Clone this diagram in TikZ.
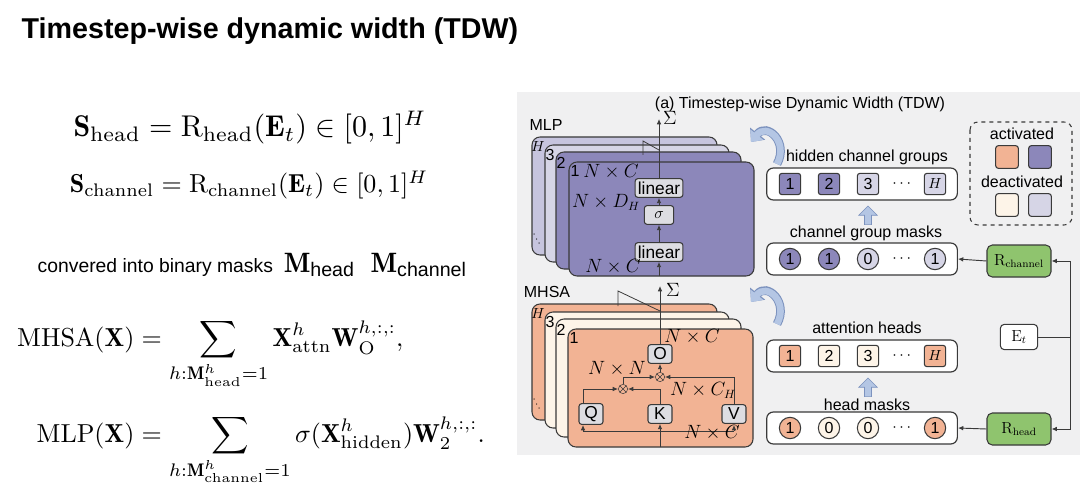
\documentclass[tikz,border=0pt]{standalone}
\usepackage{amsmath}
\usepackage{fontspec}
\newfontfamily\hel{Liberation Sans}
\usetikzlibrary{arrows.meta,shapes.arrows}
\definecolor{pD}{HTML}{8C87BA}
\definecolor{pL}{HTML}{D6D5E6}
\definecolor{pM}{HTML}{C6C4DE}
\definecolor{oD}{HTML}{F2B394}
\definecolor{oL}{HTML}{FDF4E8}
\definecolor{gbox}{HTML}{DDDDE2}
\definecolor{grn}{HTML}{8FC46E}
\definecolor{bl}{HTML}{B4C6E4}
\definecolor{bld}{HTML}{7C92BE}
\definecolor{panel}{HTML}{F0F0F1}
\definecolor{ln}{HTML}{3A3A3A}
\tikzset{
 card/.style={draw=ln,line width=0.8pt,rounded corners=6pt},
 op/.style={draw=ln,fill=gbox,rounded corners=2pt,line width=0.8pt,font=\hel\fontsize{13}{14}\selectfont,inner sep=2pt,minimum height=14pt},
 row/.style={draw=ln,fill=white,rounded corners=5pt,line width=0.9pt,minimum width=143pt,minimum height=24pt},
 sq/.style={draw=ln,line width=0.8pt,rounded corners=2pt,minimum size=16pt,inner sep=0pt,font=\hel\fontsize{12}{14}\selectfont},
 ci/.style={draw=ln,line width=0.8pt,circle,minimum size=16pt,inner sep=0pt,font=\hel\fontsize{12}{14}\selectfont},
 lab/.style={font=\hel\fontsize{12}{14}\selectfont},
 dim/.style={font=\fontsize{13.5}{15}\selectfont},
 rbox/.style={draw=ln,fill=grn,rounded corners=4pt,line width=0.8pt,minimum width=48pt,minimum height=24pt,font=\fontsize{12}{14}\selectfont},
 ar/.style={-{Latex[length=4pt,width=3.5pt]},ln,line width=0.7pt},
 ot/.style={circle,draw=ln,fill=oD,inner sep=0pt,minimum size=7pt,path picture={\draw[ln,line width=0.5pt] (path picture bounding box.north west)--(path picture bounding box.south east) (path picture bounding box.north east)--(path picture bounding box.south west);}},
 blk/.style={single arrow,draw=bld,fill=bl,shape border rotate=90,minimum height=14pt,minimum width=14pt,single arrow head extend=2pt,inner sep=1pt},
 curv/.style={line width=5pt,bl,-{Triangle[length=7pt,width=12pt]},preaction={draw=bld,line width=6.5pt,-{Triangle[length=8pt,width=14pt]}}}
}
\begin{document}
\begin{tikzpicture}[x=0.75pt,y=-0.75pt]
\useasboundingbox (0,0) rectangle (1080,495);
\fill[white] (0,0) rectangle (1080,495);
% title
\node[anchor=west,font=\hel\bfseries\fontsize{21.5}{24}\selectfont] (title) at (17,31) {Timestep-wise dynamic width (TDW)};
% equations
\node[scale=2.25] (eq1) at (250,128) {$\mathbf{S}_{\text{head}} = \mathrm{R}_{\text{head}}(\mathbf{E}_t) \in [0,1]^H$};
\node[scale=1.95] (eq2) at (249,185) {$\mathbf{S}_{\text{channel}} = \mathrm{R}_{\text{channel}}(\mathbf{E}_t) \in [0,1]^H$};
\node[anchor=west] (eq3) at (33,265) {\hel\fontsize{14.5}{16}\selectfont convered into binary masks\ \ \scalebox{1.45}{$\mathbf{M}_{\text{head}}\ \ \mathbf{M}_{\text{channel}}$}};
\node[scale=1.95,anchor=west] (eq4) at (8,402) {$\begin{aligned}
\mathrm{MHSA}(\mathbf{X}) &= \sum_{h:\mathbf{M}^h_{\text{head}}=1} \mathbf{X}^h_{\text{attn}}\mathbf{W}^{h,:,:}_{\text{O}},\\[6pt]
\mathrm{MLP}(\mathbf{X}) &= \sum_{h:\mathbf{M}^h_{\text{channel}}=1}\sigma(\mathbf{X}^h_{\text{hidden}})\mathbf{W}^{h,:,:}_2.
\end{aligned}$};
% panel
\fill[panel] (517,92) rectangle (1080,455);
\node[lab] (ptitle) at (800,104) {(a) Timestep-wise Dynamic Width (TDW)};
% MLP stack
\node[lab] (mlp) at (546,125) {MLP};
\draw[card,fill=pM] (532,137) rectangle (717,255);
\draw[card,fill=pL] (545,145) rectangle (729,262);
\draw[card,fill=pD] (556,152) rectangle (741,269);
\draw[card,fill=pD] (569,162) rectangle (754,276);
\node[font=\fontsize{11}{12}\selectfont] (hm) at (538,147) {$H$};
\node[lab] (m3) at (550,155) {3};
\node[lab] (m2) at (561,163) {2};
\node[lab] (m1) at (575,171) {1};
\node[rotate=-60,font=\fontsize{8}{9}\selectfont] (md) at (537,240) {$\cdots$};
\draw[ln,line width=0.6pt] (643,155) -- (643,141) -- (659,150);
\coordinate (mtop) at (659,119);
\coordinate (mbot) at (659,276);
\node[op] (lin1) at (659,188) {linear};
\node[op,minimum width=22pt] (sig) at (659,215) {$\sigma$};
\node[op] (lin2) at (659,252) {linear};
\draw[ar] (mbot) -- (lin2);
\draw[ar] (lin2) -- (sig);
\draw[ar] (sig) -- (lin1);
\draw[ar] (lin1) -- (mtop);
\node[dim] (sum1) at (670,118) {$\Sigma$};
\node[dim] (d1) at (611,172) {$N\times C$};
\node[dim] (d2) at (606,202) {$N\times D_H$};
\node[dim] (d3) at (613,267) {$N\times C$};
% MHSA stack
\node[lab] (mhsa) at (547,292) {MHSA};
\draw[card,fill=oD] (532,304) rectangle (717,420);
\draw[card,fill=oL] (545,312) rectangle (729,428);
\draw[card,fill=oL] (556,319) rectangle (741,437);
\draw[card,fill=oD] (568,329) rectangle (753,447);
\node[font=\fontsize{11}{12}\selectfont] (hh) at (538,314) {$H$};
\node[lab] (h3) at (550,322) {3};
\node[lab] (h2) at (561,330) {2};
\node[lab] (h1) at (574,338) {1};
\node[rotate=-60,font=\fontsize{8}{9}\selectfont] (hd) at (537,405) {$\cdots$};
\draw[ln,line width=0.6pt] (618,306) -- (618,291) -- (660,311);
\coordinate (htop) at (660,286);
\coordinate (hbot) at (660,447);
\node[op,minimum width=18pt] (O) at (660,354) {O};
\node[op,minimum width=18pt] (Q) at (591,414) {Q};
\node[op,minimum width=18pt] (K) at (660,414) {K};
\node[op,minimum width=18pt] (V) at (734,414) {V};
\node[ot] (x2) at (660,377) {};
\node[ot] (x1) at (623,389) {};
\draw[ar] (O) -- (htop);
\draw[ar] (x2) -- (O);
\draw[ar] (hbot) -- (K);
\draw[ln,line width=0.7pt] (583,431) -- (734,431);
\draw[ar] (583,431) -- (583,425);
\draw[ar] (734,431) -- (734,425);
\draw[ar] (583,403) |- (x1.west);
\draw[ar] (K.north) |- (x1.east);
\draw[ar] (x1.north) |- (x2.west);
\draw[ar] (V.north) |- (x2.east);
\node[dim] (sum2) at (673,290) {$\Sigma$};
\node[dim] (e1) at (692,337) {$N\times C$};
\node[dim] (e2) at (617,369) {$N\times N$};
\node[dim] (e3) at (703,390) {$N\times C_H$};
\node[dim] (e4) at (712,433) {$N\times C$};
% curved arrows
\draw[curv] (777,164) .. controls (789,142) and (767,122) .. (751,142);
\draw[curv] (777,324) .. controls (789,302) and (767,282) .. (751,302);
% rows
\node[lab] (hcg) at (867,157) {hidden channel groups};
\node[row] (r1) at (862,184) {};
\node[sq,fill=pD] (a1) at (790,184) {1};
\node[sq,fill=pD] (a2) at (829,184) {2};
\node[sq,fill=pL] (a3) at (868,184) {3};
\node[lab] (ad) at (903,184) {$\cdots$};
\node[sq,fill=pL,font=\fontsize{11}{12}\selectfont] (aH) at (935,184) {$H$};
\node[blk] (up1) at (868,217) {};
\node[lab] (cgm) at (866,233) {channel group masks};
\node[row] (r2) at (862,259) {};
\node[ci,fill=pD] (b1) at (790,259) {1};
\node[ci,fill=pD] (b2) at (829,259) {1};
\node[ci,fill=pL] (b3) at (868,259) {0};
\node[lab] (bd) at (903,259) {$\cdots$};
\node[ci,fill=pL] (b4) at (935,259) {1};
\node[lab] (ah) at (867,328) {attention heads};
\node[row] (r3) at (862,356) {};
\node[sq,fill=oD] (c1) at (790,356) {1};
\node[sq,fill=oL] (c2) at (829,356) {2};
\node[sq,fill=oL] (c3) at (868,356) {3};
\node[lab] (cd) at (903,356) {$\cdots$};
\node[sq,fill=oD,font=\fontsize{11}{12}\selectfont] (cH) at (935,356) {$H$};
\node[blk] (up2) at (868,389) {};
\node[lab] (hmk) at (867,405) {head masks};
\node[row] (r4) at (862,428) {};
\node[ci,fill=oD] (d1c) at (790,428) {1};
\node[ci,fill=oL] (d2c) at (829,428) {0};
\node[ci,fill=oL] (d3c) at (868,428) {0};
\node[lab] (dd) at (903,428) {$\cdots$};
\node[ci,fill=oD] (d4c) at (935,428) {1};
% routers
\node[rbox] (rc) at (1019,261) {$\mathrm{R}_{\text{channel}}$};
\node[rbox] (rh) at (1019,429) {$\mathrm{R}_{\text{head}}$};
\node[draw=ln,fill=white,rounded corners=3pt,line width=0.8pt,minimum width=28pt,minimum height=19pt,font=\fontsize{12}{14}\selectfont] (et) at (1019,337) {$\mathrm{E}_t$};
\coordinate (j) at (1070,337);
\draw[ln,line width=0.7pt] (et.east) -- (j);
\draw[ar] (j) |- (rc.east);
\draw[ar] (j) |- (rh.east);
\draw[ar] (rc.west) -- (r2.east);
\draw[ar] (rh.west) -- (r4.east);
% legend
\draw[dashed,ln,line width=0.8pt,rounded corners=6pt] (970,122) rectangle (1072,225);
\node[lab] (act) at (1022,134) {activated};
\node[sq,fill=oD,minimum size=17pt] (l1) at (1007,157) {};
\node[sq,fill=pD,minimum size=17pt] (l2) at (1040,157) {};
\node[lab] (deact) at (1022,182) {deactivated};
\node[sq,fill=oL,minimum size=17pt] (l3) at (1007,205) {};
\node[sq,fill=pL,minimum size=17pt] (l4) at (1040,205) {};
\end{tikzpicture}
\end{document}
